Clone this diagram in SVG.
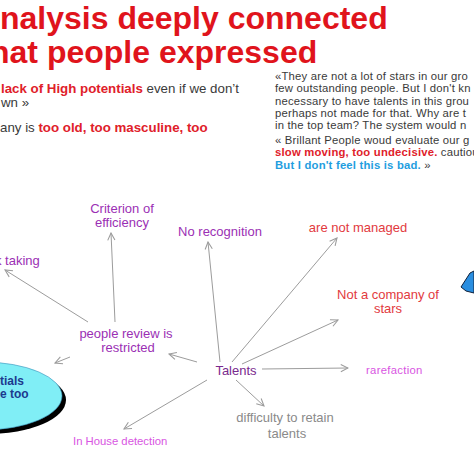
<svg xmlns="http://www.w3.org/2000/svg" width="474" height="474" viewBox="0 0 474 474">
<defs>
<style>
.title{font-family:"Liberation Sans",Arial,sans-serif;font-weight:bold;font-size:32px;fill:#e0141c}
.q{font-family:"Liberation Sans",Arial,sans-serif;font-size:11.3px;letter-spacing:0.2px;fill:#3a3a3a}
.lt{font-family:"Liberation Sans",Arial,sans-serif;font-size:13.3px;fill:#3a3a3a}
.red{fill:#e0202a;font-weight:bold}
.blue{fill:#1f9ee0;font-weight:bold}
.lbl{font-family:"Liberation Sans",Arial,sans-serif;font-size:13px}
.pur{fill:#9b30b4}
.dpur{fill:#7a2a8e}
.rd{fill:#e23a3e}
.mag{fill:#d855e2;font-size:11.3px}
.gr{fill:#8a8a8a}
.con line{stroke:#9c9c9c;stroke-width:1;fill:none;marker-end:url(#ah)}
</style>
<marker id="ah" viewBox="0 0 10 10" refX="9" refY="5" markerWidth="9" markerHeight="9" markerUnits="userSpaceOnUse" orient="auto">
<path d="M1,1 L9,5 L1,9" fill="none" stroke="#9c9c9c" stroke-width="1.2"/>
</marker>
</defs>
<rect width="474" height="474" fill="#ffffff"/>

<g id="title">
<text class="title" x="0" y="29">nalysis deeply connected</text>
<text class="title" x="-10" y="63">hat people expressed</text>
</g>

<g id="left-quote">
<text class="lt" x="1" y="93"><tspan class="red">lack of High potentials</tspan> even if we don’t</text>
<text class="lt" x="1" y="107">wn »</text>
<text class="lt" x="0" y="132">any is <tspan class="red">too old, too masculine, too</tspan></text>
</g>

<g id="right-quote">
<text class="q" x="275" y="80">«They are not a lot of stars in our gro</text>
<text class="q" x="275" y="92.3">few outstanding people. But I don't kn</text>
<text class="q" x="275" y="104.6">necessary to have talents in this grou</text>
<text class="q" x="275" y="116.9">perhaps not made for that. Why are t</text>
<text class="q" x="275" y="129.2">in the top team? The system would n</text>
<text class="q" x="275" y="143.5">« Brillant People woud evaluate our g</text>
<text class="q" x="275" y="156"><tspan class="red">slow moving, too undecisive.</tspan> cautious</text>
<text class="q" x="275" y="168.5"><tspan class="blue">But I don't feel this is bad.</tspan> »</text>
</g>

<g id="connectors" class="con">
<line x1="115" y1="322" x2="111" y2="233"/>
<line x1="88" y1="322" x2="5" y2="270"/>
<line x1="70" y1="357" x2="55" y2="363"/>
<line x1="197" y1="362" x2="169" y2="354"/>
<line x1="220" y1="362" x2="208" y2="242"/>
<line x1="232" y1="362" x2="337" y2="238"/>
<line x1="242" y1="364" x2="338" y2="320"/>
<line x1="262" y1="369" x2="348" y2="368"/>
<line x1="236" y1="380" x2="264" y2="406"/>
<line x1="207" y1="380" x2="124" y2="429"/>
</g>

<g id="ellipse-node">
<ellipse cx="-13" cy="400" rx="79" ry="34" fill="#000000"/>
<ellipse cx="-17" cy="396" rx="79" ry="34" fill="#80eef6" stroke="#3a8fb8" stroke-width="0.6"/>
<text x="0" y="385" font-family="Liberation Sans, Arial, sans-serif" font-size="12px" font-weight="bold" fill="#1c3a8e">tials</text>
<text x="0" y="398" font-family="Liberation Sans, Arial, sans-serif" font-size="12px" font-weight="bold" fill="#1c3a8e">e too</text>
</g>

<g id="blue-arrow">
<polygon points="461,287 470,273 474,271 474,293 466,291" fill="#2a8ee0" stroke="#10203a" stroke-width="1"/>
</g>

<g id="n-criterion"><text class="lbl pur" x="122" y="213" text-anchor="middle">Criterion of</text><text class="lbl pur" x="122" y="227" text-anchor="middle">efficiency</text></g>
<g id="n-risk"><text class="lbl pur" x="-5" y="265">k taking</text></g>
<g id="n-recognition"><text class="lbl pur" x="220" y="236" text-anchor="middle">No recognition</text></g>
<g id="n-managed"><text class="lbl rd" x="358" y="232" text-anchor="middle">are not managed</text></g>
<g id="n-company"><text class="lbl rd" x="388" y="299" text-anchor="middle">Not a company of</text><text class="lbl rd" x="388" y="313" text-anchor="middle">stars</text></g>
<g id="n-review"><text class="lbl pur" x="126" y="338" text-anchor="middle">people review is</text><text class="lbl pur" x="128" y="352" text-anchor="middle">restricted</text></g>
<g id="n-talents"><text class="lbl dpur" x="236" y="375" text-anchor="middle">Talents</text></g>
<g id="n-rarefaction"><text class="lbl mag" x="366" y="374" letter-spacing="0.3">rarefaction</text></g>
<g id="n-difficulty"><text class="lbl gr" x="285" y="422" text-anchor="middle">difficulty to retain</text><text class="lbl gr" x="287" y="438" text-anchor="middle">talents</text></g>
<g id="n-inhouse"><text class="lbl mag" x="73" y="445">In House detection</text></g>
</svg>
